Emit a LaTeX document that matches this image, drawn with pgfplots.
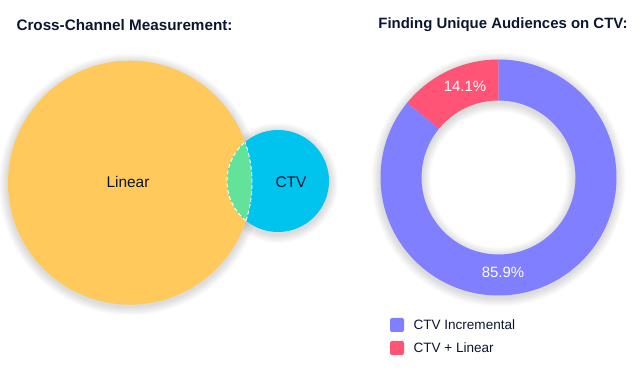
\documentclass[border=0pt]{standalone}
\usepackage{pgfplots}
\usepackage{pgfplotstable}
\pgfplotsset{compat=1.18}
\usepackage{fontspec}
\setmainfont{Liberation Sans}
\definecolor{cyellow}{HTML}{FFC95C}
\definecolor{ccyan}{HTML}{00C3EE}
\definecolor{cgreen}{HTML}{63E39A}
\definecolor{cpurple}{HTML}{7F7FFF}
\definecolor{cred}{HTML}{FF5476}
\definecolor{ctext}{HTML}{0B1630}

\pgfplotstableread{
label value
Incremental 85.9
Overlap 14.1
}\donutdata
\pgfplotstablegetelem{0}{value}\of\donutdata \let\valA\pgfplotsretval
\pgfplotstablegetelem{1}{value}\of\donutdata \let\valB\pgfplotsretval
\pgfmathsetmacro{\angB}{90+3.6*\valB}

\begin{document}
\begin{tikzpicture}
\begin{axis}[
  width=642bp, height=372bp, scale only axis,
  xmin=0, xmax=642, ymin=0, ymax=372,
  hide axis, clip=false,
]
% soft shadows
\pgfplotsinvokeforeach{1,...,9}{
  \fill[black, opacity=0.016, shift={(axis cs:130,187.5)}] (0,0) circle[radius={(122+#1)*1bp}];
  \fill[black, opacity=0.016, shift={(axis cs:278,189)}] (0,0) circle[radius={(51+#1)*1bp}];
  \fill[black, opacity=0.016, even odd rule, shift={(axis cs:498.5,192.5)}] (0,0) circle[radius={(118+#1)*1bp}] (0,0) circle[radius={(77-#1)*1bp}];
}
% Venn
\fill[cyellow, shift={(axis cs:130,189.3)}] (0,0) circle[radius=122bp];
\fill[ccyan, shift={(axis cs:278,191)}] (0,0) circle[radius=51bp];
\begin{scope}
  \clip[shift={(axis cs:130,189.3)}] (0,0) circle[radius=122bp];
  \fill[cgreen, shift={(axis cs:278,191)}] (0,0) circle[radius=51bp];
  \draw[white, line width=0.9bp, dash pattern=on 4bp off 2.5bp, shift={(axis cs:278,191)}] (0,0) circle[radius=51bp];
\end{scope}
\begin{scope}
  \clip[shift={(axis cs:278,191)}] (0,0) circle[radius=51bp];
  \draw[white, line width=0.9bp, dash pattern=on 4bp off 2.5bp, shift={(axis cs:130,189.3)}] (0,0) circle[radius=122bp];
\end{scope}
\node[text=ctext, font=\fontsize{15.5}{17}\selectfont] at (axis cs:128,190) {Linear};
\node[text=ctext, font=\fontsize{15.5}{17}\selectfont] at (axis cs:291,190) {CTV};
% Donut
\fill[cred, shift={(axis cs:498.5,194.5)}] (90:118bp) arc[start angle=90, end angle=\angB, radius=118bp]
  -- (\angB:77bp) arc[start angle=\angB, end angle=90, radius=77bp] -- cycle;
\fill[cpurple, shift={(axis cs:498.5,194.5)}] (\angB:118bp) arc[start angle=\angB, end angle=450, radius=118bp]
  -- (450:77bp) arc[start angle=450, end angle=\angB, radius=77bp] -- cycle;
\node[white, font=\fontsize{15}{17}\selectfont] at (axis cs:465,286) {\valB\%};
\node[white, font=\fontsize{15}{17}\selectfont] at (axis cs:503,100) {\valA\%};
% Titles
\node[anchor=west, text=ctext, font=\bfseries\fontsize{15.3}{17}\selectfont] at (axis cs:13,347) {Cross-Channel Measurement:};
\node[anchor=east, text=ctext, font=\bfseries\fontsize{15}{17}\selectfont] at (axis cs:631,347) {Finding Unique Audiences on CTV:};
% Legend
\fill[cpurple, rounded corners=2bp] (axis cs:390,40) rectangle (axis cs:404,54);
\fill[cred, rounded corners=2bp] (axis cs:390,17) rectangle (axis cs:404,31);
\node[anchor=west, text=ctext, font=\fontsize{13.6}{15}\selectfont] at (axis cs:410,47) {CTV Incremental};
\node[anchor=west, text=ctext, font=\fontsize{13.6}{15}\selectfont] at (axis cs:410,24) {CTV + Linear};
\end{axis}
\pgfresetboundingbox
\path[use as bounding box] (current axis.south west) rectangle (current axis.north east);
\end{tikzpicture}
\end{document}
